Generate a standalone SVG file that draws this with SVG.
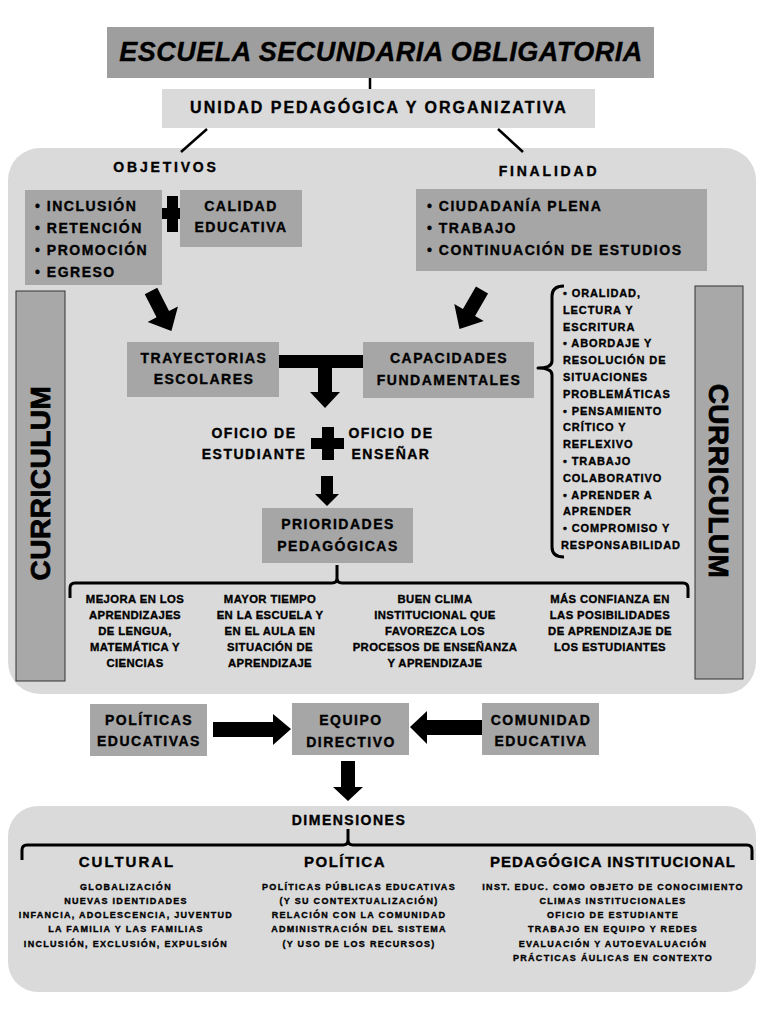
<svg xmlns="http://www.w3.org/2000/svg" width="768" height="1024" viewBox="0 0 768 1024">
<style>
text{font-family:"Liberation Sans",Arial,sans-serif;font-weight:bold;fill:#000;stroke:#000;stroke-width:0.35}
.t{font-size:14px;letter-spacing:1.5px;text-anchor:middle}
.tl{font-size:14px;letter-spacing:1.5px}
.h{font-size:14px;letter-spacing:2.8px;text-anchor:middle}
.s{font-size:11px;letter-spacing:0.9px}
.p{font-size:11.3px;letter-spacing:0.4px;text-anchor:middle}
.d{font-size:15px;letter-spacing:2px;text-anchor:middle}
.dd{font-size:9px;letter-spacing:1.3px;text-anchor:middle}
.cur{font-size:28px;letter-spacing:0.5px;text-anchor:middle;stroke-width:0.8}
.box{fill:#a6a6a6}
.panel{fill:#dadada}
.line{stroke:#000;stroke-width:2.5;fill:none}
.brace{stroke:#000;stroke-width:3;fill:none;stroke-linejoin:round}
.ar{fill:#000}
</style>

<rect class="panel" x="8" y="148" width="748" height="546" rx="32"/>
<rect class="panel" x="8" y="806" width="748" height="186" rx="30"/>

<g id="connectors">
  <line class="line" x1="370" y1="78" x2="370" y2="89"/>
  <line class="line" x1="207" y1="129" x2="181" y2="152"/>
  <line class="line" x1="498" y1="129" x2="523" y2="152"/>
  <polygon class="ar" transform="translate(151,291) rotate(-27)" points="-7,0 7,0 7,26 17,26 0,45 -17,26 -7,26"/>
  <polygon class="ar" transform="translate(482,290) rotate(30)" points="-7,0 7,0 7,26 17,26 0,45 -17,26 -7,26"/>
  <rect class="ar" x="279" y="355" width="84" height="13"/>
  <polygon class="ar" points="318,368 332,368 332,392 340,392 325,408 310,392 318,392"/>
  <polygon class="ar" points="321,476 333,476 333,494 339,494 327,506 315,494 321,494"/>
  <rect class="ar" x="154" y="208" width="34" height="11"/>
  <rect class="ar" x="167" y="196" width="11" height="36"/>
  <rect class="ar" x="311" y="438" width="33" height="11"/>
  <rect class="ar" x="322" y="427" width="12" height="33"/>
  <path class="brace" d="M70,598 L70,588 Q70,583 75,583 L332,583 Q337,583 337,578 L337,565 M337,578 Q337,583 342,583 L683,583 Q688,583 688,588 L688,598"/>
  <path class="brace" d="M564,286 Q552,286 552,296 L552,361 Q552,368 538,368 Q552,368 552,375 L552,547 Q552,557 564,557"/>
  <polygon class="ar" points="213,722 273,722 273,714 291,729 273,745 273,737 213,737"/>
  <polygon class="ar" points="482,720 427,720 427,711 410,727 427,744 427,735 482,735"/>
  <polygon class="ar" points="341,761 355,761 355,787 363,787 348,801 333,787 341,787"/>
  <path class="brace" d="M22,860 L22,850 Q22,845 27,845 L343,845 Q348,845 348,840 L348,829 M348,840 Q348,845 353,845 L747,845 Q752,845 752,850 L752,860"/>
</g>

<g id="title">
  <rect x="107" y="27" width="547" height="51" fill="#9e9e9e"/>
  <text x="381" y="61" font-size="27" font-style="italic" text-anchor="middle" letter-spacing="0.5" stroke-width="0.7">ESCUELA SECUNDARIA OBLIGATORIA</text>
</g>
<g id="unidad">
  <rect x="162" y="89" width="433" height="39" fill="#dadada"/>
  <text x="379" y="113" font-size="16" letter-spacing="2" text-anchor="middle">UNIDAD PEDAGÓGICA Y ORGANIZATIVA</text>
</g>

<g id="objetivos-label"><text class="h" x="166" y="172">OBJETIVOS</text></g>
<g id="finalidad-label"><text class="h" x="549" y="176">FINALIDAD</text></g>

<g id="objetivos">
  <rect class="box" x="25" y="190" width="137" height="95"/>
  <text class="tl" x="35" y="211">• INCLUSIÓN</text>
  <text class="tl" x="35" y="233">• RETENCIÓN</text>
  <text class="tl" x="35" y="255">• PROMOCIÓN</text>
  <text class="tl" x="35" y="277">• EGRESO</text>
</g>
<g id="calidad">
  <rect class="box" x="180" y="190" width="122" height="57"/>
  <text class="t" x="241" y="211">CALIDAD</text>
  <text class="t" x="241" y="232">EDUCATIVA</text>
</g>
<g id="finalidad">
  <rect class="box" x="416" y="189" width="291" height="82"/>
  <text class="tl" x="427" y="211">• CIUDADANÍA PLENA</text>
  <text class="tl" x="427" y="233">• TRABAJO</text>
  <text class="tl" x="427" y="255">• CONTINUACIÓN DE ESTUDIOS</text>
</g>
<g id="trayectorias">
  <rect class="box" x="127" y="342" width="152" height="55"/>
  <text class="t" x="204" y="363">TRAYECTORIAS</text>
  <text class="t" x="204" y="384">ESCOLARES</text>
</g>
<g id="capacidades">
  <rect class="box" x="363" y="342" width="171" height="56"/>
  <text class="t" x="449" y="363">CAPACIDADES</text>
  <text class="t" x="449" y="385">FUNDAMENTALES</text>
</g>
<g id="capacidades-lista">
  <text class="s" x="563" y="297">• ORALIDAD,</text>
  <text class="s" x="563" y="314">LECTURA Y</text>
  <text class="s" x="563" y="331">ESCRITURA</text>
  <text class="s" x="563" y="347">• ABORDAJE Y</text>
  <text class="s" x="563" y="364">RESOLUCIÓN DE</text>
  <text class="s" x="563" y="381">SITUACIONES</text>
  <text class="s" x="563" y="398">PROBLEMÁTICAS</text>
  <text class="s" x="563" y="415">• PENSAMIENTO</text>
  <text class="s" x="563" y="431">CRÍTICO Y</text>
  <text class="s" x="563" y="448">REFLEXIVO</text>
  <text class="s" x="563" y="465">• TRABAJO</text>
  <text class="s" x="563" y="482">COLABORATIVO</text>
  <text class="s" x="563" y="499">• APRENDER A</text>
  <text class="s" x="563" y="515">APRENDER</text>
  <text class="s" x="563" y="532">• COMPROMISO Y</text>
  <text class="s" x="561" y="549">RESPONSABILIDAD</text>
</g>
<g id="oficio-estudiante">
  <text class="t" x="254" y="438">OFICIO DE</text>
  <text class="t" x="254" y="459">ESTUDIANTE</text>
</g>
<g id="oficio-ensenar">
  <text class="t" x="391" y="438">OFICIO DE</text>
  <text class="t" x="391" y="459">ENSEÑAR</text>
</g>
<g id="prioridades">
  <rect class="box" x="262" y="508" width="151" height="55"/>
  <text class="t" x="338" y="529">PRIORIDADES</text>
  <text class="t" x="338" y="551">PEDAGÓGICAS</text>
</g>
<g id="prioridad-1">
  <text class="p" x="135" y="603">MEJORA EN LOS</text>
  <text class="p" x="135" y="619">APRENDIZAJES</text>
  <text class="p" x="135" y="635">DE LENGUA,</text>
  <text class="p" x="135" y="651">MATEMÁTICA Y</text>
  <text class="p" x="135" y="667">CIENCIAS</text>
</g>
<g id="prioridad-2">
  <text class="p" x="270" y="603">MAYOR TIEMPO</text>
  <text class="p" x="270" y="619">EN LA ESCUELA Y</text>
  <text class="p" x="270" y="635">EN EL AULA EN</text>
  <text class="p" x="270" y="651">SITUACIÓN DE</text>
  <text class="p" x="270" y="667">APRENDIZAJE</text>
</g>
<g id="prioridad-3">
  <text class="p" x="435" y="603">BUEN CLIMA</text>
  <text class="p" x="435" y="619">INSTITUCIONAL QUE</text>
  <text class="p" x="435" y="635">FAVOREZCA LOS</text>
  <text class="p" x="435" y="651">PROCESOS DE ENSEÑANZA</text>
  <text class="p" x="435" y="667">Y APRENDIZAJE</text>
</g>
<g id="prioridad-4">
  <text class="p" x="610" y="603">MÁS CONFIANZA EN</text>
  <text class="p" x="610" y="619">LAS POSIBILIDADES</text>
  <text class="p" x="610" y="635">DE APRENDIZAJE DE</text>
  <text class="p" x="610" y="651">LOS ESTUDIANTES</text>
</g>
<g id="curriculum-izq">
  <rect x="16" y="291" width="49" height="390" fill="#a8a8a8" stroke="#333" stroke-width="1"/>
  <text class="cur" transform="translate(50,483) rotate(-90)">CURRICULUM</text>
</g>
<g id="curriculum-der">
  <rect x="695" y="286" width="48" height="393" fill="#a8a8a8" stroke="#333" stroke-width="1"/>
  <text class="cur" transform="translate(709,481) rotate(90)">CURRICULUM</text>
</g>

<g id="politicas">
  <rect class="box" x="90" y="704" width="117" height="52"/>
  <text class="t" x="149" y="725" letter-spacing="1">POLÍTICAS</text>
  <text class="t" x="149" y="746" letter-spacing="1">EDUCATIVAS</text>
</g>
<g id="equipo">
  <rect class="box" x="292" y="703" width="117" height="52"/>
  <text class="t" x="351" y="725">EQUIPO</text>
  <text class="t" x="351" y="747">DIRECTIVO</text>
</g>
<g id="comunidad">
  <rect class="box" x="482" y="703" width="117" height="52"/>
  <text class="t" x="541" y="725" letter-spacing="1">COMUNIDAD</text>
  <text class="t" x="541" y="746" letter-spacing="1">EDUCATIVA</text>
</g>

<g id="dimensiones"><text class="h" x="349" y="825" style="letter-spacing:1.5px">DIMENSIONES</text></g>
<g id="cultural">
  <text class="d" x="127" y="867">CULTURAL</text>
  <text class="dd" x="126" y="890">GLOBALIZACIÓN</text>
  <text class="dd" x="126" y="904">NUEVAS IDENTIDADES</text>
  <text class="dd" x="126" y="918">INFANCIA, ADOLESCENCIA, JUVENTUD</text>
  <text class="dd" x="126" y="932">LA FAMILIA Y LAS FAMILIAS</text>
  <text class="dd" x="126" y="947">INCLUSIÓN, EXCLUSIÓN, EXPULSIÓN</text>
</g>
<g id="politica">
  <text class="d" x="345" y="867" style="letter-spacing:1.5px">POLÍTICA</text>
  <text class="dd" x="359" y="890">POLÍTICAS PÚBLICAS EDUCATIVAS</text>
  <text class="dd" x="359" y="904">(Y SU CONTEXTUALIZACIÓN)</text>
  <text class="dd" x="359" y="918">RELACIÓN CON LA COMUNIDAD</text>
  <text class="dd" x="359" y="932">ADMINISTRACIÓN DEL SISTEMA</text>
  <text class="dd" x="359" y="947">(Y USO DE LOS RECURSOS)</text>
</g>
<g id="pedagogica">
  <text class="d" x="613" y="867" style="letter-spacing:1px">PEDAGÓGICA INSTITUCIONAL</text>
  <text class="dd" x="613" y="890">INST. EDUC. COMO OBJETO DE CONOCIMIENTO</text>
  <text class="dd" x="613" y="904">CLIMAS INSTITUCIONALES</text>
  <text class="dd" x="613" y="918">OFICIO DE ESTUDIANTE</text>
  <text class="dd" x="613" y="932">TRABAJO EN EQUIPO Y REDES</text>
  <text class="dd" x="613" y="947">EVALUACIÓN Y AUTOEVALUACIÓN</text>
  <text class="dd" x="613" y="961">PRÁCTICAS ÁULICAS EN CONTEXTO</text>
</g>
</svg>
